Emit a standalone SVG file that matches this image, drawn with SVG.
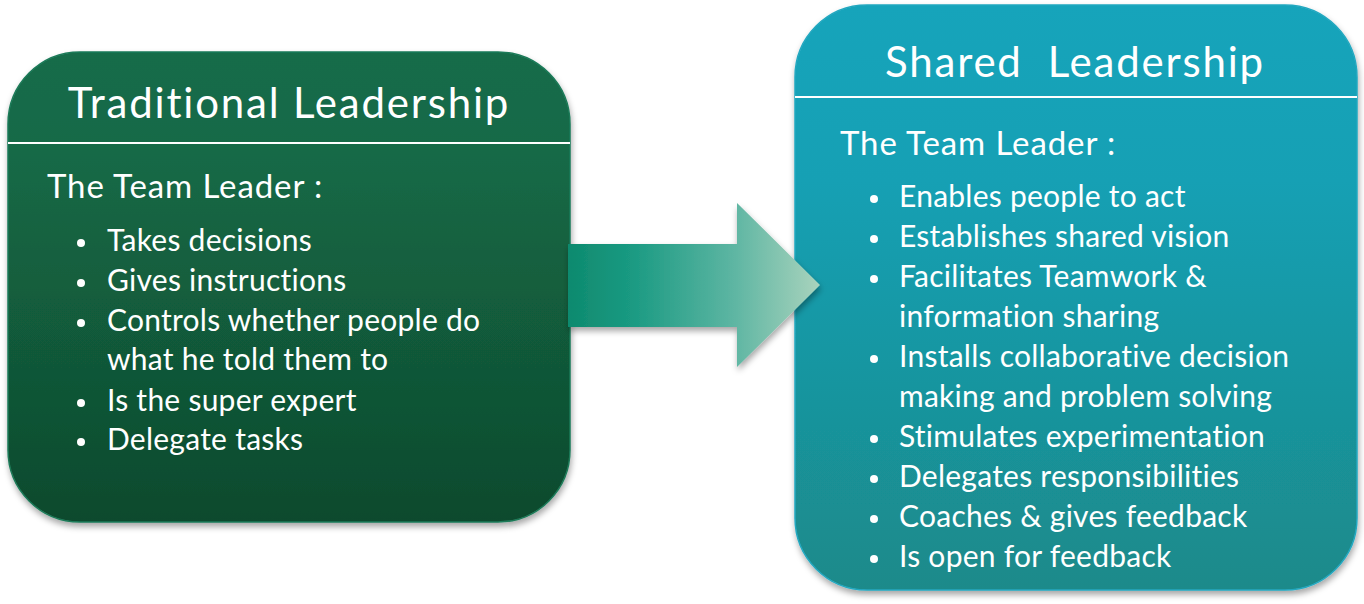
<svg xmlns="http://www.w3.org/2000/svg" width="1364" height="604" viewBox="0 0 1364 604">
<defs>
<linearGradient id="gLeft" x1="0" y1="0" x2="0" y2="1">
<stop offset="0" stop-color="#166c4a"/>
<stop offset="0.2" stop-color="#146a47"/>
<stop offset="1" stop-color="#0f4a2d"/>
</linearGradient>
<linearGradient id="gRight" x1="0" y1="0" x2="0" y2="1">
<stop offset="0" stop-color="#14a4bb"/>
<stop offset="0.3" stop-color="#16a0b4"/>
<stop offset="1" stop-color="#1b8a8a"/>
</linearGradient>
<linearGradient id="gArrow" x1="568" y1="0" x2="820" y2="0" gradientUnits="userSpaceOnUse">
<stop offset="0" stop-color="#0e8a6e"/>
<stop offset="0.25" stop-color="#1a9a82"/>
<stop offset="0.65" stop-color="#5cb5a2"/>
<stop offset="1" stop-color="#a9d3bd"/>
</linearGradient>
<filter id="shadow" x="-10%" y="-10%" width="120%" height="125%">
<feDropShadow dx="1" dy="4" stdDeviation="3" flood-color="#000" flood-opacity="0.35"/>
</filter>
</defs>
<style>
.title{font-family:Lato,"Open Sans",sans-serif;font-size:42px;fill:#fff;text-anchor:middle;letter-spacing:1.8px}
.sub{font-family:Lato,"Open Sans",sans-serif;font-size:33px;fill:#fff;letter-spacing:0.9px}
.item{font-family:Lato,"Open Sans",sans-serif;font-size:30px;fill:#fff;letter-spacing:0.25px}
.bul{fill:#fff}
.div{stroke:#fff;stroke-width:2}
</style>
<g id="node-traditional">
<rect x="8" y="52" width="562" height="470" rx="72" ry="72" fill="url(#gLeft)" stroke="#1b7a58" stroke-width="1.5" filter="url(#shadow)"/>
<line class="div" x1="8" y1="143" x2="570" y2="143"/>
<text class="title" x="289" y="118">Traditional Leadership</text>
<text class="sub" x="47" y="198">The Team Leader :</text>
<g class="bul">
<circle cx="81" cy="243" r="4"/>
<circle cx="81" cy="283" r="4"/>
<circle cx="81" cy="323" r="4"/>
<circle cx="81" cy="403" r="4"/>
<circle cx="81" cy="442" r="4"/>
</g>
<text class="item" x="107" y="251">Takes decisions</text>
<text class="item" x="107" y="291">Gives instructions</text>
<text class="item" x="107" y="331">Controls whether people do</text>
<text class="item" x="107" y="370">what he told them to</text>
<text class="item" x="107" y="411">Is the super expert</text>
<text class="item" x="107" y="450">Delegate tasks</text>
</g>
<g id="node-shared">
<rect x="795" y="5" width="562" height="585" rx="72" ry="72" fill="url(#gRight)" stroke="#23a8c0" stroke-width="1.5" filter="url(#shadow)"/>
<line class="div" x1="795" y1="97" x2="1357" y2="97"/>
<text class="title" x="1075" y="77" xml:space="preserve">Shared  Leadership</text>
<text class="sub" x="840" y="155">The Team Leader :</text>
<g class="bul">
<circle cx="874" cy="199" r="4"/>
<circle cx="874" cy="239" r="4"/>
<circle cx="874" cy="279" r="4"/>
<circle cx="874" cy="359" r="4"/>
<circle cx="874" cy="439" r="4"/>
<circle cx="874" cy="479" r="4"/>
<circle cx="874" cy="519" r="4"/>
<circle cx="874" cy="559" r="4"/>
</g>
<text class="item" x="899" y="207">Enables people to act</text>
<text class="item" x="899" y="247">Establishes shared vision</text>
<text class="item" x="899" y="287">Facilitates Teamwork &amp;</text>
<text class="item" x="899" y="327">information sharing</text>
<text class="item" x="899" y="367">Installs collaborative decision</text>
<text class="item" x="899" y="407">making and problem solving</text>
<text class="item" x="899" y="447">Stimulates experimentation</text>
<text class="item" x="899" y="487">Delegates responsibilities</text>
<text class="item" x="899" y="527">Coaches &amp; gives feedback</text>
<text class="item" x="899" y="567">Is open for feedback</text>
</g>
<g id="connectors">
<path d="M568 244 L737 244 L737 203 L820 285 L737 367 L737 327 L568 327 Z" fill="url(#gArrow)" filter="url(#shadow)"/>
</g>
</svg>
